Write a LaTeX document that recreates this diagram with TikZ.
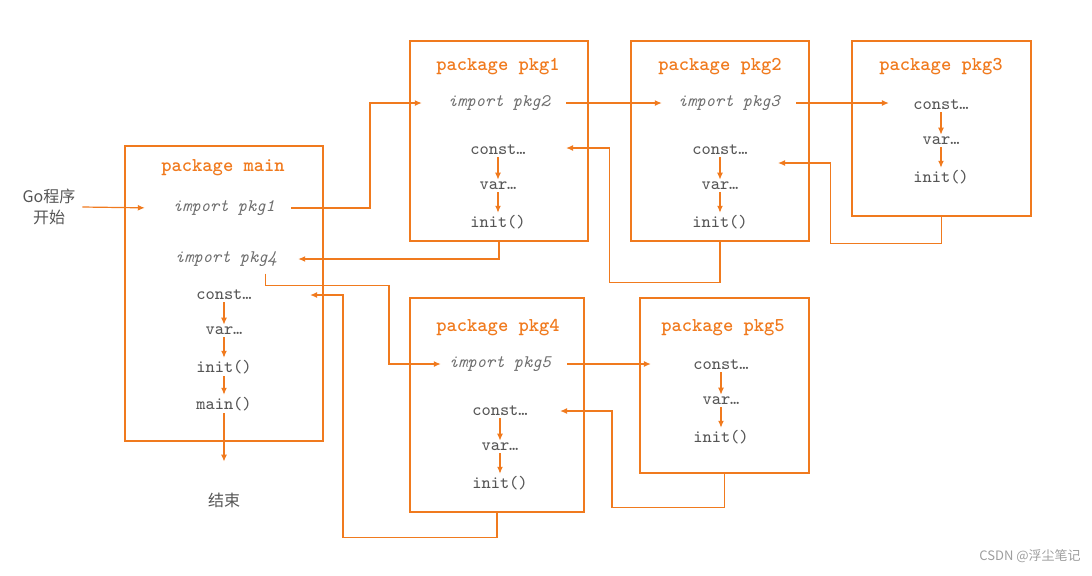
\documentclass[tikz,border=0pt]{standalone}
\usepackage{fontspec}
\newfontfamily\cjkfont{Noto Sans CJK SC}
\usetikzlibrary{positioning, calc, arrows.meta, fit}
\definecolor{goorange}{RGB}{240,122,30}
\definecolor{codegray}{RGB}{85,85,85}
\definecolor{impgray}{RGB}{110,110,110}

\begin{document}
\begin{tikzpicture}[x = 0.5pt, y = -0.5pt]
\begin{scope}[
	pkgbox/.style={draw=goorange, line width=1.2pt, inner sep=0pt},
	pkgtitle/.style={font=\ttfamily\bfseries\addfontfeature{FakeBold=1.2}\fontsize{9.8}{11}\selectfont, text=goorange},
	stmt/.style={font=\ttfamily\fontsize{8.8}{10}\selectfont, text=codegray, inner xsep=8pt, inner ysep=1pt},
	imp/.style={font=\ttfamily\itshape\fontsize{8.8}{10}\selectfont, text=impgray, inner xsep=8pt},
	zh/.style={font=\cjkfont\fontsize{8}{10.5}\selectfont, text=codegray},
	seqarr/.style={draw=goorange, line width=0.6pt, -{Latex[length=3.5pt, width=3pt]}},
	link/.style={draw=goorange, line width=0.6pt, -{Latex[length=3.5pt, width=3pt]}}
]
\useasboundingbox (0, 0) rectangle (1092, 575);
% package boxes
\node[pkgbox, fit={(125, 146) (323, 441)}] (main) {};
\node[pkgbox, fit={(410, 41) (588, 241)}] (pkg1) {};
\node[pkgbox, fit={(631, 41) (809, 241)}] (pkg2) {};
\node[pkgbox, fit={(852, 41) (1031, 216)}] (pkg3) {};
\node[pkgbox, fit={(410, 298) (584, 512)}] (pkg4) {};
\node[pkgbox, fit={(640, 298) (809, 473)}] (pkg5) {};
\foreach \p/\x/\y in {main/223/168, pkg1/498/67, pkg2/720/67, pkg3/941/67, pkg4/498/328, pkg5/723/328} {
	\node[pkgtitle] (\p-title) at (\x, \y) {package \p};
}
% init sequence of every package
\foreach \p/\x/\y in {main/224/295, pkg1/498/150, pkg2/720/150, pkg3/941/105, pkg4/500/411, pkg5/721/365} {
	\node[stmt] (\p-const) at (\x, \y) {const…};
	\node[stmt] (\p-var) at (\x, {\y + 36}) {var…};
	\node[stmt] (\p-init) at (\x, {\y + 72}) {init()};
	\draw[seqarr] (\p-const) -- (\p-var);
	\draw[seqarr] (\p-var) -- (\p-init);
}
\node[stmt] (main-main) at (224, 404) {main()};
\draw[seqarr] (main-init) -- (main-main);
% imports
\node[imp] (main-imp1) at (224, 208) {import pkg1};
\node[imp] (main-imp4) at (226, 259) {import pkg4};
\node[imp] (pkg1-imp2) at (499, 103) {import pkg2};
\node[imp] (pkg2-imp3) at (729, 103) {import pkg3};
\node[imp] (pkg4-imp5) at (500, 364) {import pkg5};
\node[zh, align=center] (start) at (49, 207) {Go程序\\开始};
\node[zh] (end) at (224, 500) {结束};
% lanes and return points
\coordinate (lane1) at (370, 0);
\coordinate (lane4) at (389, 0);
\coordinate (lane0) at (343, 0);
\coordinate (lane12) at ($(pkg1.east)!0.5!(pkg2.west)$);
\coordinate (lane23) at ($(pkg2.east)!0.5!(pkg3.west)$);
\coordinate (lane45) at ($(pkg4.east)!0.5!(pkg5.west)$);
\coordinate (pkg2-ret) at (778, 163);
% forward: import chain
\draw[link, shorten >=6pt] (start.east) -- (main-imp1.west);
\draw[link, shorten >=5pt] (main-imp1.east) -- (main-imp1.east -| lane1) |- (pkg1-imp2.west);
\draw[link] (pkg1-imp2.east) -- (pkg2-imp3.west);
\draw[link, shorten >=4pt] (pkg2-imp3.east) -- (pkg2-imp3.east -| pkg3-const.west);
\draw[link] ([xshift=-14pt]main-imp4.south east) |- ++(0, 12) coordinate (d4) -- (d4 -| lane4) |- ([xshift=4pt]pkg4-imp5.west);
\draw[link] (pkg4-imp5.east) -- ([xshift=-13pt]pkg4-imp5.east -| pkg5-const.west);
% back: after init
\draw[link] (pkg3.south) -- ++(0, 26) coordinate (d3) -- (d3 -| lane23) |- (pkg2-ret);
\draw[link] (pkg2.south) -- ++(0, 40) coordinate (d2) -- (d2 -| lane12) |- ([xshift=12pt, yshift=1pt]pkg1-const.east);
\draw[link, shorten >=2.5pt] (pkg1.south) |- (main-imp4.east);
\draw[link] (pkg5.south) -- ++(0, 33) coordinate (d5) -- (d5 -| lane45) |- ([xshift=8pt]pkg4-const.east);
\draw[link] (pkg4.south) -- ++(0, 24) coordinate (d0) -- (d0 -| lane0) |- ([xshift=21pt]main-const.east);
\draw[link, shorten >=12pt] (main-main.south) -- (end.north);
\node[font=\cjkfont\fontsize{6.5}{7.5}\selectfont, text=black!38] (mark) at (1030, 556) {CSDN @浮尘笔记};
\end{scope}
\end{tikzpicture}
\end{document}
